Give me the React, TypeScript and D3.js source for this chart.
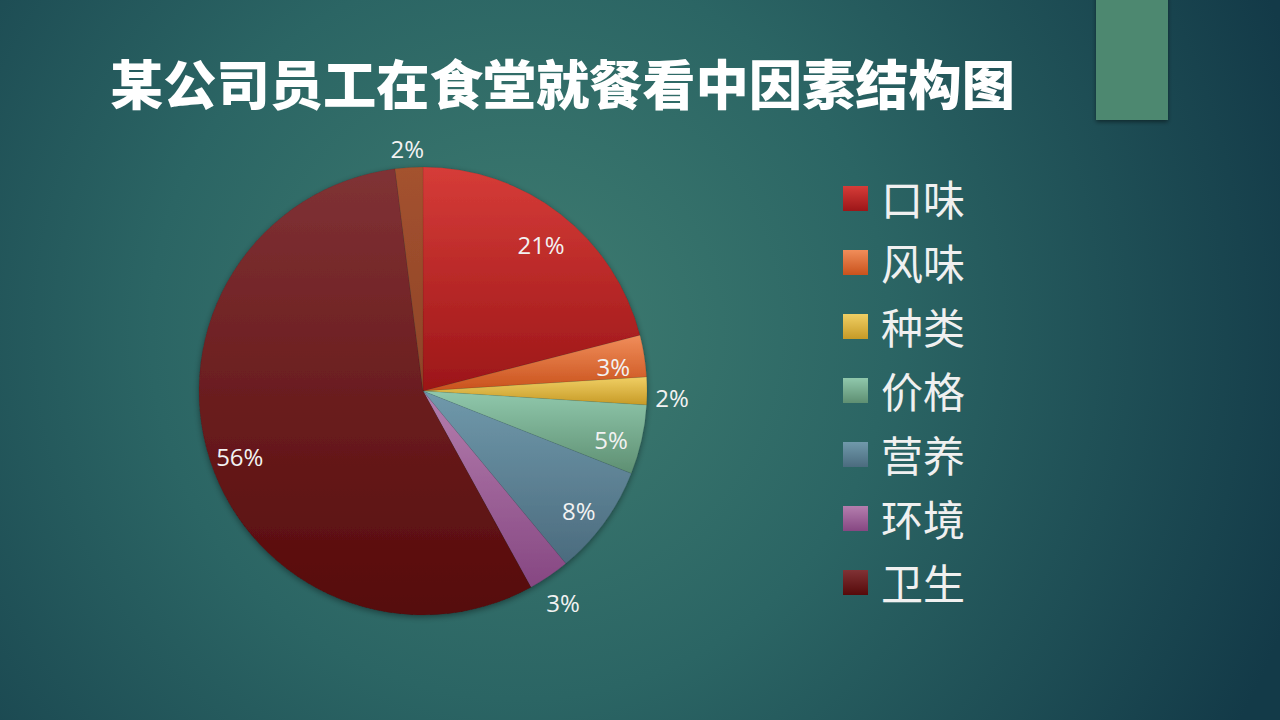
import React from "react";
import * as d3 from "d3";

const title = "某公司员工在食堂就餐看中因素结构图";
const categories = ["口味", "风味", "种类", "价格", "营养", "环境", "卫生", ""];
const values = [21, 3, 2, 5, 8, 3, 56, 2];
const labelOutside = [false, false, true, false, false, true, false, true];
const colorsTop = ["#d63c38", "#f08d5a", "#f0cf64", "#90c8ac", "#7099ab", "#b47eae", "#803235", "#a4522f"];
const colorsBottom = ["#9c1618", "#c9521c", "#c69a26", "#5e8f72", "#4b6b7e", "#864782", "#560a0a", "#8e4428"];

const W = 1280;
const H = 720;
const cx = 423;
const cy = 391;
const R = 224;

export default function App() {
  const pie = d3
    .pie<number>()
    .sort(null)
    .value((d) => d)
    .startAngle(0)
    .endAngle(2 * Math.PI);
  const arcs = pie(values);
  const arc = d3.arc<d3.PieArcDatum<number>>().innerRadius(0).outerRadius(R);
  const inArc = d3.arc<d3.PieArcDatum<number>>().innerRadius(R * 0.86).outerRadius(R * 0.86);
  const outArc = d3.arc<d3.PieArcDatum<number>>().innerRadius(R + 25).outerRadius(R + 25);

  const legendY = d3
    .scalePoint<string>()
    .domain(categories.filter((c) => c !== ""))
    .range([197, 581]);

  return (
    <svg
      width={W}
      height={H}
      style={{ position: "absolute", left: 0, top: 0, display: "block" }}
      fontFamily="'Noto Sans CJK SC', 'Noto Sans', sans-serif"
    >
      <defs>
        <radialGradient id="bg" cx="520" cy="330" r="820" gradientUnits="userSpaceOnUse">
          <stop offset="0" stopColor="#3f7d71" />
          <stop offset="0.45" stopColor="#2b6564" />
          <stop offset="1" stopColor="#133a48" />
        </radialGradient>
        {values.map((_, i) => (
          <linearGradient key={i} id={`g${i}`} x1="0" y1="0" x2="0" y2="1">
            <stop offset="0" stopColor={colorsTop[i]} />
            <stop offset="1" stopColor={colorsBottom[i]} />
          </linearGradient>
        ))}
        <filter id="shadow" x="-20%" y="-20%" width="140%" height="140%">
          <feDropShadow dx="0" dy="2" stdDeviation="3" floodColor="#000" floodOpacity="0.4" />
        </filter>
        <filter id="rshadow" x="-30%" y="-30%" width="160%" height="160%">
          <feDropShadow dx="0" dy="2" stdDeviation="2" floodColor="#000" floodOpacity="0.45" />
        </filter>
      </defs>
      <rect x={0} y={0} width={W} height={H} fill="url(#bg)" />
      <rect x={1096} y={-5} width={72} height={125} fill="#4e8870" filter="url(#rshadow)" />

      <text
        x={110}
        y={105}
        fill="#ffffff"
        fontSize={53}
        fontWeight={900}
        textLength={905}
        lengthAdjust="spacingAndGlyphs"
      >
        {title}
      </text>

      <g transform={`translate(${cx},${cy})`}>
        <g filter="url(#shadow)">
          {arcs.map((a, i) => (
            <path key={i} d={arc(a) || ""} fill={`url(#g${i})`} stroke="rgba(0,0,0,0.12)" strokeWidth={0.6} />
          ))}
        </g>
        {arcs.map((a, i) => {
          const [x, y] = (labelOutside[i] ? outArc : inArc).centroid(a);
          return (
            <text
              key={i}
              x={x}
              y={y + 6}
              textAnchor="middle"
              dominantBaseline="central"
              fill="#f2f2f2"
              fontSize={24}
              fontFamily="'Open Sans', 'Noto Sans', sans-serif"
            >
              {`${values[i]}%`}
            </text>
          );
        })}
      </g>

      {categories
        .filter((c) => c !== "")
        .map((c, i) => {
          const y = legendY(c) as number;
          return (
            <g key={c}>
              <rect x={843} y={y - 11} width={25} height={25} fill={`url(#g${i})`} />
              <text x={881} y={y} dominantBaseline="central" fill="#f0f0f0" fontSize={42}>
                {c}
              </text>
            </g>
          );
        })}
    </svg>
  );
}
